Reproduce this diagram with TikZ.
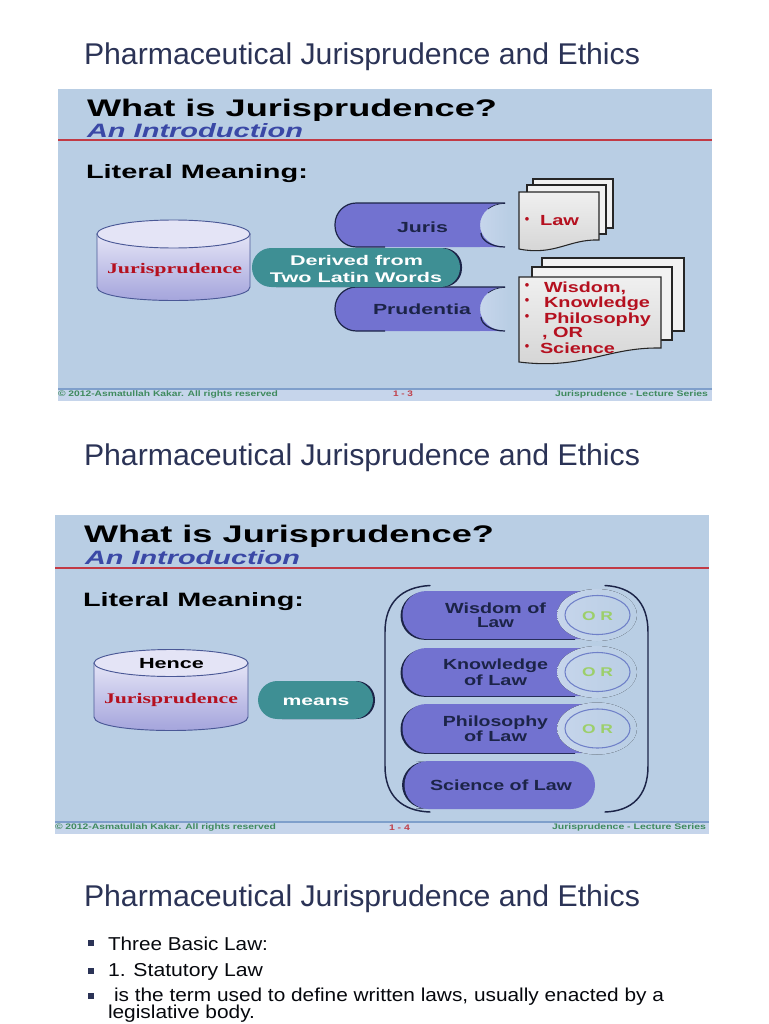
\documentclass[tikz,border=0pt]{standalone}
\usepackage{fontspec}
\usepackage{graphicx}
\setmainfont{Liberation Sans}
\newfontfamily\serifb{Liberation Serif}[BoldFont={Liberation Serif Bold}]
\usetikzlibrary{shadings}
\definecolor{slidebg}{HTML}{B9CEE4}
\definecolor{navy}{HTML}{2B3356}
\definecolor{pillblue}{HTML}{7272D0}
\definecolor{pilledge}{HTML}{1C2448}
\definecolor{teal}{HTML}{3E8F94}
\definecolor{darkred}{HTML}{B5101F}
\definecolor{linered}{HTML}{C23A45}
\definecolor{introblue}{HTML}{3A48A6}
\definecolor{footblue}{HTML}{7F9FCB}
\definecolor{footgreen}{HTML}{3F8A5E}
\definecolor{footred}{HTML}{C0404A}
\definecolor{cyledge}{HTML}{4A5896}
\definecolor{orgreen}{HTML}{9CCF6A}
\definecolor{ringblue}{HTML}{6F80C8}
\definecolor{halo}{HTML}{C6D5EB}
\definecolor{halomid}{HTML}{C0D2E8}
\definecolor{cyltopc}{HTML}{E4E4F6}
\definecolor{cylbotc}{HTML}{A0A0DA}
\newlength\pxu \setlength\pxu{0.75pt}
\newcommand\fitw[2]{\resizebox{#1\pxu}{\height}{#2}}
\tikzset{
  txt/.style={inner sep=0pt,outer sep=0pt,anchor=center,align=center},
  pagetitle/.style={txt,anchor=west,text=navy,font=\fontsize{22.5}{26}\selectfont},
  headtxt/.style={txt,anchor=west,text=black,font=\fontsize{18}{20}\bfseries\selectfont},
  introtxt/.style={txt,anchor=west,text=introblue,font=\fontsize{14.5}{16}\bfseries\itshape\selectfont},
  littxt/.style={txt,anchor=west,text=black,font=\fontsize{14.5}{16}\bfseries\selectfont},
  labeltxt/.style={txt,text=pilledge,font=\fontsize{11}{12}\bfseries\selectfont},
  whitetxt/.style={txt,text=white,font=\fontsize{10.5}{12}\bfseries\selectfont},
  redtxt/.style={txt,anchor=west,text=darkred,font=\fontsize{11}{12}\bfseries\selectfont},
  reddot/.style={txt,text=darkred,font=\fontsize{9.5}{10}\bfseries\selectfont},
  serifred/.style={txt,text=darkred,font=\serifb\fontsize{11}{12}\bfseries\selectfont},
  ortxt/.style={txt,text=orgreen,font=\fontsize{9.5}{10}\bfseries\selectfont},
  foottxt/.style={txt,anchor=west,text=footgreen,font=\fontsize{6}{7}\bfseries\selectfont},
  footnum/.style={txt,anchor=west,text=footred,font=\fontsize{6}{7}\bfseries\selectfont},
  bodytxt/.style={txt,anchor=west,text=black!85!navy,font=\fontsize{14}{16}\selectfont},
  sheet/.style={draw=black!85,line width=0.8pt,fill=black!5},
  frontsheet/.style={draw=black!85,line width=0.8pt,top color=black!6,bottom color=black!17},
  cylbody/.style={draw=cyledge,line width=0.7pt,top color=cyltopc,bottom color=cylbotc},
  cyltop/.style={draw=cyledge,line width=0.7pt,fill=cyltopc},
  bracketline/.style={draw=pilledge,line width=1.1pt,line cap=round},
  ringline/.style={draw=ringblue,line width=0.8pt},
  taboutline/.style={draw=pilledge,line width=0.9pt}
}
% cylinder: x1, x2, top centre y, ry, side bottom y
\newcommand\cyl[5]{%
  \path[cylbody] (#1,#3) -- (#1,#5) .. controls (#1,#5+18) and (#2,#5+18) .. (#2,#5) -- (#2,#3) -- cycle;
  \path[cyltop] ({(#1+#2)/2},#3) ellipse [x radius={(#2-#1)/2},y radius=#4];
}
% horizontal capsule with shadow on its right: x1,x2,y1,y2
\newcommand\tealpill[4]{%
  \fill[pilledge] (#1+24,#3) [rounded corners=14pt] -- (#2+2,#3) -- (#2+2,#4) [sharp corners] -- (#1+24,#4) -- cycle;
  \fill[teal,rounded corners=14.5pt] (#1,#3) rectangle (#2,#4);
}
% notched tab: x1,x2,y1,y2,notch x
\newcommand\tab[5]{%
  \fill[left color=halo,right color=slidebg] (#5,#3) rectangle (#2+4,#4);
  \fill[pillblue] (#2,#3) [rounded corners=16pt] -- (#1,#3) -- (#1,#4) [sharp corners] -- (#2,#4)
     .. controls (#2-14,#4) and (#5,{(#3+#4)/2+12}) .. (#5,{(#3+#4)/2})
     .. controls (#5,{(#3+#4)/2-12}) and (#2-14,#3) .. (#2,#3) -- cycle;
  % dark edge: top line, left end, lower-left part of the bottom
  \path[taboutline] (#2,#3) [rounded corners=16pt] -- (#1,#3) -- (#1,#4) [sharp corners] -- (#1+50,#4);
  % dark edge of the lower and upper horns of the notch
  \path[taboutline] (#2,#4) .. controls (#2-14,#4) and (#5+1,{(#3+#4)/2+15}) .. (#5+1,{(#3+#4)/2+8});
  \path[draw=pilledge,line width=0.5pt] (#2,#3+.5) .. controls (#2-8,#3+.5) and (#5+12,#3+3) .. (#5+8,#3+6);
}
% front sheet: x1,x2,y1,left bottom,right bottom,wave depth
\newcommand\fsheet[6]{%
  \path[frontsheet] (#1,#3) -- (#2,#3) -- (#2,#5) .. controls ({#1+0.62*(#2-#1)},#5-1) and ({#1+0.45*(#2-#1)},#4+#6) .. (#1,#4) -- cycle;
}
% pill with OR ring: y1,y2
\newcommand\orpill[2]{%
  \fill[pilledge] (575,#1+1) [rounded corners=18pt] -- (400.5,#1+1) -- (400.5,#2+.8) [sharp corners] -- (575,#2+.8) -- cycle;
  \fill[pillblue] (582,#1) [rounded corners=18pt] -- (402.5,#1) -- (402.5,#2) [sharp corners] -- (582,#2) -- cycle;
  \fill[left color=halo,middle color=halomid,right color=slidebg] (597,{(#1+#2)/2}) ellipse [x radius=40,y radius=26];
  \path[ringline] (597.5,{(#1+#2)/2}) ellipse [x radius=32.5,y radius=19.5];
}
\begin{document}
\begin{tikzpicture}[x=0.75pt,y=-0.75pt]
\useasboundingbox (0,0) rectangle (768,1024);
\clip (0,0) rectangle (768,1024);
\fill[white] (0,0) rectangle (768,1024);

% ---- page titles
\node[pagetitle] (t1) at (84,57) {\fitw{556}{Pharmaceutical Jurisprudence and Ethics}};
\node[pagetitle] (t2) at (84,458) {\fitw{556}{Pharmaceutical Jurisprudence and Ethics}};
\node[pagetitle] (t3) at (84,899) {\fitw{556}{Pharmaceutical Jurisprudence and Ethics}};

% ---- slide 1
\fill[slidebg] (58,89) rectangle (712,401);
\fill[linered] (58,139) rectangle (712,141.4);
\fill[footblue] (58,388) rectangle (712,390);
\fill[halo] (58,390) rectangle (712,401);
\node[headtxt] (a1) at (87,110) {\fitw{410}{What is Jurisprudence?}};
\node[introtxt] (a2) at (87,131) {\fitw{216}{An Introduction}};
\node[littxt] (a3) at (86,174) {\fitw{222}{Literal Meaning:}};

\cyl{97}{250}{234}{14}{287}
\node[serifred] (a4) at (174.5,270) {\fitw{135}{Jurisprudence}};

\tab{335}{505}{203}{247}{480}
\tab{335}{505}{287}{331}{480}
\tealpill{252}{460}{248}{287}
\node[whitetxt] (a5) at (356.5,260) {\fitw{133}{Derived from}};
\node[whitetxt] (a6) at (356,277) {\fitw{172}{Two Latin Words}};
\node[labeltxt] (a7) at (422.5,227) {\fitw{51}{Juris}};
\node[labeltxt] (a8) at (422,309) {\fitw{98}{Prudentia}};

\path[sheet] (533,179) rectangle (613,228);
\path[sheet] (527,185) rectangle (606,234);
\fsheet{519}{599}{192}{249}{240}{7}
\node[reddot] (a9) at (527,221) {•};
\node[redtxt] (a10) at (540,221) {\fitw{39}{Law}};

\path[sheet] (542,258) rectangle (684,331);
\path[sheet] (532,267) rectangle (672,340);
\fsheet{519}{661}{277}{362}{348}{8}
\node[reddot] (b1) at (527,287) {•};
\node[redtxt] (b2) at (544,288) {\fitw{82}{Wisdom,}};
\node[reddot] (b3) at (527,302) {•};
\node[redtxt] (b4) at (544,304) {\fitw{106}{Knowledge}};
\node[reddot] (b5) at (527,318) {•};
\node[redtxt] (b6) at (544,320) {\fitw{107}{Philosophy}};
\node[redtxt] (b7) at (542,334) {\fitw{41}{, OR}};
\node[reddot] (b8) at (527,348) {•};
\node[redtxt] (b9) at (540,348) {\fitw{75}{Science}};

\node[foottxt] (f1) at (58,394) {\fitw{220}{© 2012-Asmatullah Kakar. All rights reserved}};
\node[footnum] (f2) at (393,394) {\fitw{20}{1 - 3}};
\node[foottxt] (f3) at (555,394) {\fitw{153}{Jurisprudence - Lecture Series}};

% ---- slide 2
\fill[slidebg] (55,515) rectangle (709,834);
\fill[linered] (55,566.5) rectangle (709,568.5);
\fill[footblue] (55,821) rectangle (709,823);
\fill[halo] (55,823) rectangle (709,834);
\node[headtxt] (c1) at (84,536) {\fitw{410}{What is Jurisprudence?}};
\node[introtxt] (c2) at (85,558) {\fitw{215}{An Introduction}};
\node[littxt] (c3) at (83,602) {\fitw{221}{Literal Meaning:}};

\cyl{94}{248}{663}{13.5}{717}
\node[labeltxt,text=black] (c4) at (171.5,664) {\fitw{65}{Hence}};
\node[serifred] (c5) at (171,700) {\fitw{134}{Jurisprudence}};

\tealpill{258}{373}{681}{719}
\node[whitetxt] (c6) at (316,702) {\fitw{67}{means}};

\orpill{591}{639}
\orpill{648}{696}
\orpill{704}{753}
\fill[pilledge] (402,761.5) [rounded corners=18pt] -- (402,808.5) -- (440,808.5) -- (440,761.5) -- cycle;
\fill[pillblue,rounded corners=18pt] (404.5,761) rectangle (595,809);

\node[labeltxt] (d1) at (495.5,608) {\fitw{101}{Wisdom of}};
\node[labeltxt] (d2) at (495.5,623) {\fitw{37}{Law}};
\node[labeltxt] (d3) at (495.5,666) {\fitw{105}{Knowledge}};
\node[labeltxt] (d4) at (495.5,680) {\fitw{63}{of Law}};
\node[labeltxt] (d5) at (495.5,723) {\fitw{105}{Philosophy}};
\node[labeltxt] (d6) at (495.5,736) {\fitw{63}{of Law}};
\node[labeltxt] (d7) at (501,785) {\fitw{142}{Science of Law}};
\node[ortxt] (d8) at (597.5,616) {\fitw{31}{O R}};
\node[ortxt] (d9) at (597.5,672) {\fitw{31}{O R}};
\node[ortxt] (d10) at (597.5,729) {\fitw{31}{O R}};

\path[bracketline] (430,585.5) .. controls (402,587) and (385,602) .. (385,632) -- (385,766) .. controls (385,796) and (402,811) .. (430,812);
\path[bracketline] (605,585.5) .. controls (632,587) and (648,602) .. (648,632) -- (648,766) .. controls (648,796) and (632,811) .. (605,812);

\node[foottxt] (f4) at (55,827.5) {\fitw{221}{© 2012-Asmatullah Kakar. All rights reserved}};
\node[footnum] (f5) at (389,827.5) {\fitw{21}{1 - 4}};
\node[foottxt] (f6) at (552,827.5) {\fitw{154}{Jurisprudence - Lecture Series}};

% ---- slide 3
\fill[navy] (88,940) rectangle (94,946);
\fill[navy] (88,968) rectangle (94,974);
\fill[navy] (88,993) rectangle (94,999);
\node[bodytxt] (e1) at (108,944) {\fitw{160}{Three Basic Law:}};
\node[bodytxt] (e2) at (108,972) {\fitw{155}{1. Statutory Law}};
\node[bodytxt] (e3) at (114,997) {\fitw{550}{is the term used to define written laws, usually enacted by a}};
\node[bodytxt] (e4) at (108,1014) {\fitw{147}{legislative body.}};
\end{tikzpicture}
\end{document}
